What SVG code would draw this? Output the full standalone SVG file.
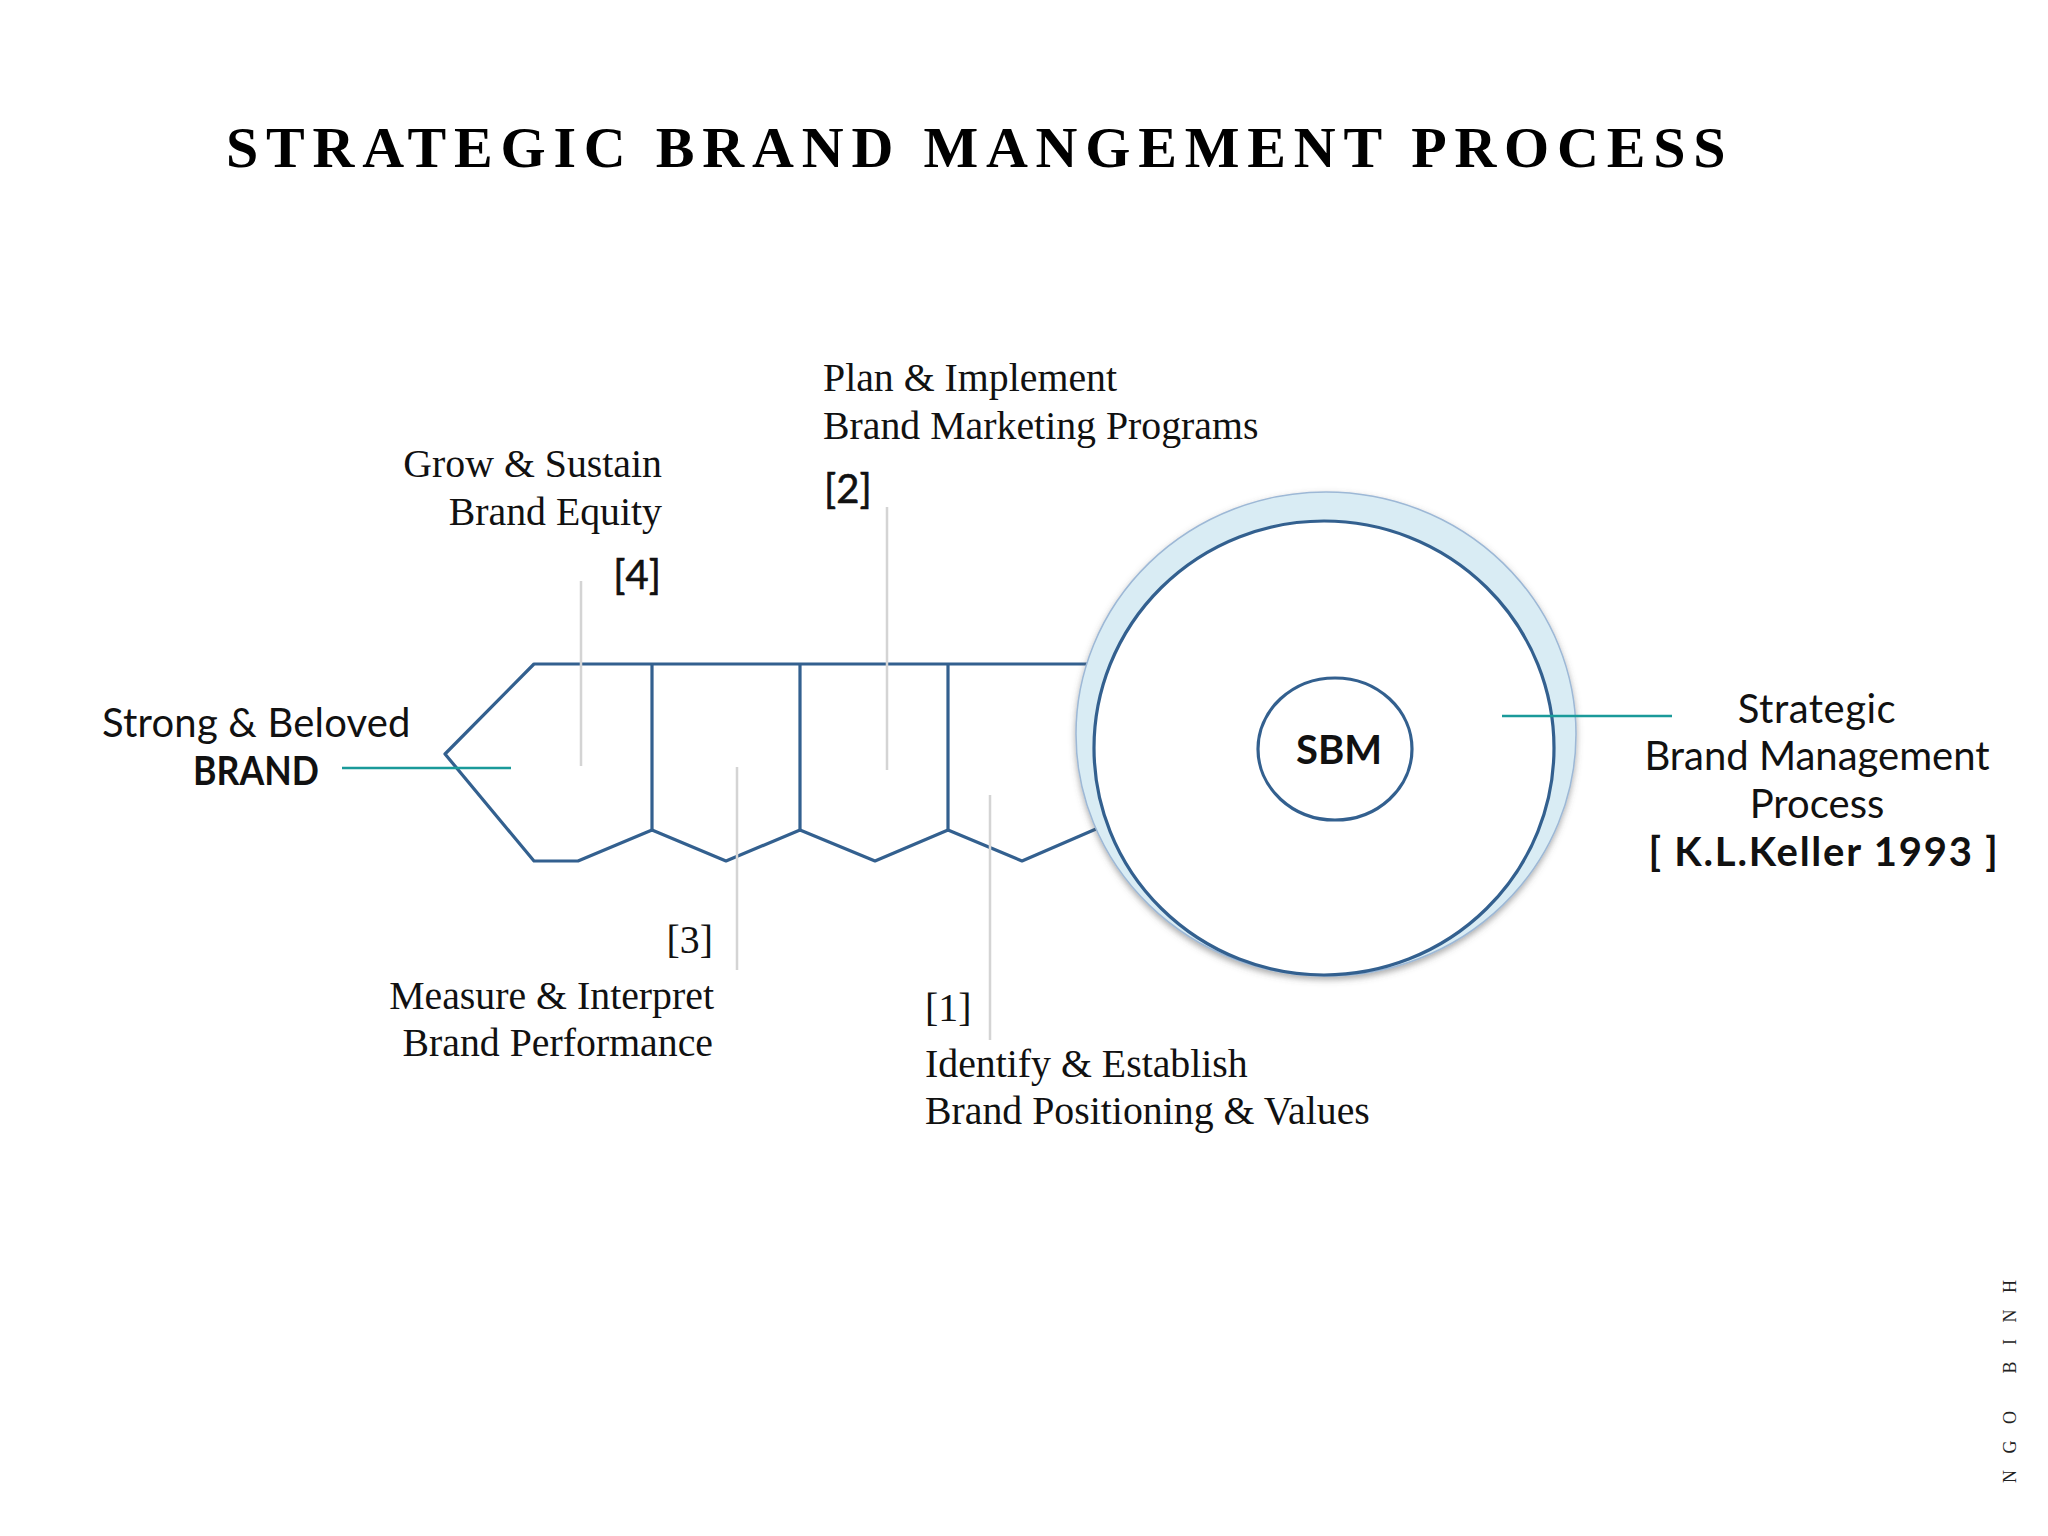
<svg xmlns="http://www.w3.org/2000/svg" width="2048" height="1536" viewBox="0 0 2048 1536">
<style>
.s{font-family:"Liberation Serif",serif;font-size:39.8px;fill:#111}
.o{font-family:"Lato",sans-serif;font-size:40px;fill:#111}
.b{font-weight:700}
.e{text-anchor:end}
.m{text-anchor:middle}
.h{stroke:#111;stroke-width:.6}
.key{fill:#fff;stroke:#33608f;stroke-width:3.2;stroke-linejoin:round}
.teal{stroke:#1a9a9a;stroke-width:2.5;fill:none}
.grey{stroke:#d4d4d4;stroke-width:2.5;fill:none}
</style>
<defs>
<filter id="sh" x="-10%" y="-10%" width="120%" height="120%"><feDropShadow dx="0" dy="3" stdDeviation="3" flood-color="#555" flood-opacity="0.5"/></filter>
</defs>
<rect width="2048" height="1536" fill="#fff"/>
<text id="title" x="226" y="167" font-family="Liberation Serif,serif" font-weight="700" font-size="58" letter-spacing="7.8" fill="#000">STRATEGIC BRAND MANGEMENT PROCESS</text>
<g id="key">
<path class="key" d="M1096 829L1022 861L948 830L875 861L800 830L726 861L652 830L578 861L534 861L445 754L534 664L1100 664"/>
<path class="key" fill="none" d="M652 664V830M800 664V830M948 664V830"/>
</g>
<g id="circle">
<ellipse cx="1326" cy="734" rx="250" ry="242" fill="#d9ecf4" stroke="#9db8d6" stroke-width="1.5" filter="url(#sh)"/>
<ellipse class="key" cx="1324" cy="748" rx="230" ry="227"/>
</g>
<g id="sbm">
<ellipse class="key" cx="1335" cy="749" rx="77" ry="71"/>
<text class="o b m" x="1339" y="764" font-size="44" fill="#000">SBM</text>
</g>
<g id="connectors">
<path class="teal" d="M342 768H511M1502 716H1672"/>
<path class="grey" d="M581 581V766M887 507V770M737 767V970M990 795V1040"/>
</g>
<g id="label-brand">
<text class="o" x="102" y="737" letter-spacing=".2">Strong &amp; Beloved</text>
<text class="o b" x="193" y="785" textLength="126" lengthAdjust="spacingAndGlyphs">BRAND</text>
</g>
<g id="label-4">
<text class="s e" x="662" y="477">Grow &amp; Sustain</text>
<text class="s e" x="662" y="525">Brand Equity</text>
<text class="o e h" x="661" y="589">[4]</text>
</g>
<g id="label-2">
<text class="s" x="823" y="391">Plan &amp; Implement</text>
<text class="s" x="823" y="439">Brand Marketing Programs</text>
<text class="o h" x="824" y="503">[2]</text>
</g>
<g id="label-3">
<text class="s e" x="713" y="953">[3]</text>
<text class="s e" x="714" y="1009">Measure &amp; Interpret</text>
<text class="s e" x="713" y="1056">Brand Performance</text>
</g>
<g id="label-1">
<text class="s" x="925" y="1021">[1]</text>
<text class="s" x="925" y="1077">Identify &amp; Establish</text>
<text class="s" x="925" y="1124">Brand Positioning &amp; Values</text>
</g>
<g id="label-sbm">
<text class="o m" x="1817" y="723" letter-spacing=".5">Strategic</text>
<text class="o m" x="1817" y="770" font-size="39.4">Brand Management</text>
<text class="o m" x="1817" y="818">Process</text>
<text class="o b m" x="1824" y="866" letter-spacing="1.8">[ K.L.Keller 1993 ]</text>
</g>
<text id="author" transform="translate(2016 1483) rotate(-90)" font-family="Liberation Serif,serif" font-size="18" letter-spacing="16.5" fill="#222">NGO BINH</text>
</svg>
